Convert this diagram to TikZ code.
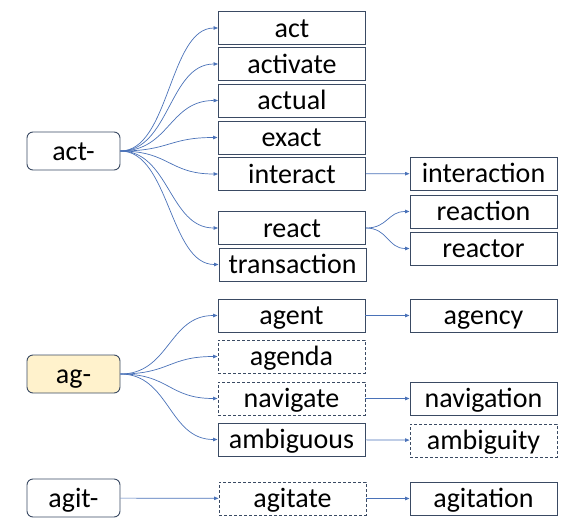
\documentclass[tikz,border=0pt]{standalone}
\usepackage{fontspec}
\setmainfont{Carlito}
\usetikzlibrary{arrows.meta}
\definecolor{bordc}{HTML}{3A4A63}
\definecolor{arrc}{HTML}{4A72B8}
\definecolor{agfill}{HTML}{FFF2CC}
\tikzset{
  txt/.style={font=\fontsize{28}{28}\selectfont, text=black, text height=18pt, text depth=0pt},
  wbox/.style={txt, draw=bordc, line width=0.9pt, minimum width=147pt, minimum height=33pt, inner sep=0pt},
  dbox/.style={wbox, dash pattern=on 3pt off 2pt},
  rootbox/.style={txt, draw=bordc, line width=0.9pt, rounded corners=6pt, minimum width=93pt, minimum height=38pt, inner sep=0pt},
  arr/.style={draw=arrc, line width=0.7pt, -{Triangle[length=4.5pt,width=3.5pt]}},
}
\newcommand{\curv}[2]{\draw[arr] (#1.east) .. controls ([xshift=49pt]#1.east) and ([xshift=-49pt]#2.west) .. (#2.west);}
\begin{document}
\begin{tikzpicture}[x=1pt,y=-1pt]
\useasboundingbox (0,0) rectangle (578,530);
% roots
\node[rootbox] (act-) at (73.5,151) {act-};
\node[rootbox, fill=agfill] (ag-) at (73.5,374) {ag-};
\node[rootbox] (agit-) at (73.5,498) {agit-};
% middle column
\node[wbox] (act) at (292,28) {act};
\node[wbox] (activate) at (292,64) {activate};
\node[wbox] (actual) at (292,100.5) {actual};
\node[wbox] (exact) at (291.5,137.5) {exact};
\node[wbox] (interact) at (292,174) {interact};
\node[wbox] (react) at (292,228) {react};
\node[wbox] (transaction) at (292.5,264.5) {transaction};
\node[wbox] (agent) at (291.5,315.5) {agent};
\node[dbox] (agenda) at (291.5,356.5) {agenda};
\node[dbox] (navigate) at (291.5,398.5) {navigate};
\node[wbox] (ambiguous) at (291.5,439.5) {ambiguous};
\node[dbox] (agitate) at (292.5,498.5) {agitate};
% right column
\node[wbox] (interaction) at (483.5,173.5) {interaction};
\node[wbox] (reaction) at (483.5,211.5) {reaction};
\node[wbox] (reactor) at (483.5,248.5) {reactor};
\node[wbox] (agency) at (483.5,315.5) {agency};
\node[wbox] (navigation) at (483.5,398.5) {navigation};
\node[dbox] (ambiguity) at (483.5,440.5) {ambiguity};
\node[wbox] (agitation) at (483.5,498.5) {agitation};
% connectors
\foreach \t in {act,activate,actual,exact,interact,react,transaction}{\curv{act-}{\t}}
\foreach \t in {agent,agenda,navigate,ambiguous}{\curv{ag-}{\t}}
\draw[arr] (agit-) -- (agitate);
\draw[arr] (interact) -- (interaction);
\draw[arr] (react.east) .. controls ([xshift=22pt]react.east) and ([xshift=-22pt]reaction.west) .. (reaction.west);
\draw[arr] (react.east) .. controls ([xshift=22pt]react.east) and ([xshift=-22pt]reactor.west) .. (reactor.west);
\draw[arr] (agent) -- (agency);
\draw[arr] (navigate) -- (navigation);
\draw[arr] (ambiguous) -- (ambiguity);
\draw[arr] (agitate) -- (agitation);
\end{tikzpicture}
\end{document}
